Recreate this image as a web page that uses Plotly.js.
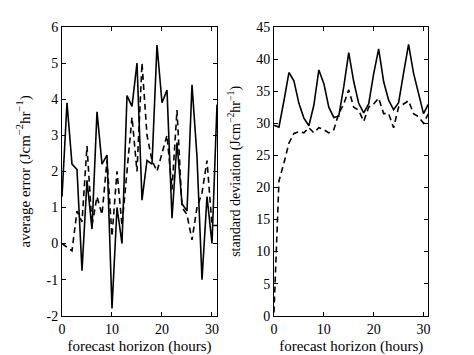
<!DOCTYPE html>
<html>
<head>
<meta charset="utf-8">
<script src="https://cdn.plot.ly/plotly-3.0.1.min.js"></script>
<style>html,body{margin:0;padding:0;background:#fff;}#chart{width:474px;height:355px;}</style>
</head>
<body>
<div id="chart"></div>
<script>
// forecast horizon (hours)
const hours = [0,1,2,3,4,5,6,7,8,9,10,11,12,13,14,15,16,17,18,19,20,21,22,23,24,25,26,27,28,29,30,31];

// left panel: average error (solid and dashed)
const avgErrSolid  = [1.3,3.9,2.2,2.05,-0.75,1.75,0.4,3.65,2.2,2.45,-1.8,1.0,0.0,4.1,3.8,5.0,1.2,2.3,2.2,5.5,3.9,4.25,0.7,2.8,1.1,0.9,4.4,2.4,-1.0,1.3,0.0,3.85];
const avgErrDashed = [0.0,-0.1,-0.2,0.9,0.6,2.7,0.5,1.3,0.8,2.3,0.2,2.0,0.5,2.0,3.5,2.0,5.0,3.0,2.3,2.0,2.5,3.0,1.5,3.7,1.0,0.8,0.1,1.0,1.4,2.3,0.5,0.5];

// right panel: standard deviation (solid and dashed)
const stdSolid  = [29.7,29.4,33.5,37.9,36.6,33.1,30.8,29.6,32.8,38.3,36.2,32.5,30.9,31.1,35.7,41.0,36.5,33.1,31.6,33.0,37.7,41.6,36.5,33.6,32.1,33.2,37.8,42.3,37.8,34.4,31.5,33.0];
const stdDashed = [0.5,21.0,23.8,26.9,28.4,28.7,28.5,29.3,28.5,29.3,29.0,28.5,29.0,31.5,33.0,35.2,32.5,32.0,30.3,32.5,33.0,33.9,31.5,31.5,29.3,32.5,33.0,33.5,31.5,31.0,30.0,31.5];

const xTicks = [0,10,20,30];
const leftYTicks = [-2,-1,0,1,2,3,4,5,6];
const leftYTickText = ['-2','-1','0','1','2','3','4','5','6'];
const rightYTicks = [0,5,10,15,20,25,30,35,40,45];

const xTitle = 'forecast horizon (hours)';
const leftYTitle = 'average error (Jcm<sup>−2</sup>hr<sup>−1</sup>)';
const rightYTitle = 'standard deviation (Jcm<sup>−2</sup>hr<sup>−1</sup>)';

const FONT = 'Liberation Serif, DejaVu Serif, serif';
const lineW = 1.6;

const traces = [
  {x: hours, y: avgErrSolid, xaxis:'x', yaxis:'y', mode:'lines', line:{color:'#000', width:lineW}},
  {x: hours, y: avgErrDashed, xaxis:'x', yaxis:'y', mode:'lines', line:{color:'#000', width:lineW, dash:'6px,4px'}},
  {x: hours, y: stdSolid, xaxis:'x2', yaxis:'y2', mode:'lines', line:{color:'#000', width:lineW}},
  {x: hours, y: stdDashed, xaxis:'x2', yaxis:'y2', mode:'lines', line:{color:'#000', width:lineW, dash:'6px,4px'}}
];

const axCommon = {
  showline:true, linecolor:'#000', linewidth:1, mirror:'ticks',
  ticks:'inside', ticklen:4, tickcolor:'#000', tickwidth:1,
  showgrid:false, zeroline:false,
  tickfont:{family:FONT, size:14, color:'#000'}
};

const layout = {
  width:474, height:355,
  margin:{l:0, r:0, t:0, b:0},
  paper_bgcolor:'#fff', plot_bgcolor:'#fff',
  showlegend:false,
  font:{family:FONT, color:'#000'},
  xaxis: Object.assign({}, axCommon, {domain:[0.1308,0.4578], range:[0,31], tickvals:xTicks, anchor:'y',
    title:{text:xTitle, font:{family:FONT, size:15, color:'#000'}, standoff:5}}),
  yaxis: Object.assign({}, axCommon, {domain:[0.1107,0.924], range:[-2,6], tickvals:leftYTicks, ticktext:leftYTickText, anchor:'x',
    title:{text:leftYTitle, font:{family:FONT, size:15, color:'#000'}, standoff:12}}),
  xaxis2: Object.assign({}, axCommon, {domain:[0.578,0.904], range:[0,31], tickvals:xTicks, anchor:'y2',
    title:{text:xTitle, font:{family:FONT, size:15, color:'#000'}, standoff:5}}),
  yaxis2: Object.assign({}, axCommon, {domain:[0.1107,0.924], range:[0,45], tickvals:rightYTicks, anchor:'x2',
    title:{text:rightYTitle, font:{family:FONT, size:14, color:'#000'}, standoff:12}})
};

Plotly.newPlot('chart', traces, layout, {staticPlot:true, displayModeBar:false});
</script>
</body>
</html>
